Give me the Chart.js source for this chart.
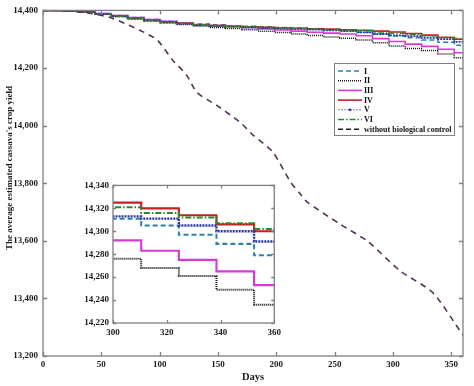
<!DOCTYPE html>
<html>
<head>
<meta charset="utf-8">
<script src="https://cdn.jsdelivr.net/npm/chart.js@4.4.1/dist/chart.umd.min.js"></script>
<style>
  html, body { margin: 0; padding: 0; background: #ffffff; }
  #wrap { position: relative; width: 474px; height: 386px; }
  #main { position: absolute; left: 0; top: 0; }
  #inset { position: absolute; left: 55px; top: 176px; }
</style>
</head>
<body>
<div id="wrap">
  <canvas id="main" width="474" height="386"></canvas>
  <canvas id="inset" width="230" height="170"></canvas>
</div>
<script>
// ---------------- data ----------------
const seriesLabels = ['I', 'II', 'III', 'IV', 'V', 'VI', 'without biological control'];
const yAxisTitle = "The average estimated cassava's crop yield";
const xAxisTitle = 'Days';

const stepDays = [0, 16.5, 30.5, 44.5, 58.5, 72.5, 86.5, 100.5, 114.5, 128.5, 142.5, 156.5, 170.5,
  184.5, 198.5, 212.5, 226.5, 240.5, 254.5, 268.5, 282.5, 296.5, 310.5, 324.5, 338.5, 352.5, 360];

const yieldI   = [14400,14399,14395,14389,14382,14375,14368,14362,14357,14353,14350,14347,14345,14343,14341,14339,14336,14333,14329,14324,14318,14311,14305,14297,14289,14279,14278];
const yieldII  = [14400,14398,14394,14387,14379,14371,14364,14357,14351,14346,14341,14337,14333,14328,14323,14318,14313,14308,14303,14297,14288,14276,14268,14261,14249,14236,14235];
const yieldIII = [14400,14399,14395,14389,14382,14375,14368,14362,14356,14351,14347,14344,14340,14336,14332,14328,14324,14321,14318,14312,14302,14292,14283,14275,14265,14253,14252];
const yieldIV  = [14400,14398,14394,14388,14380,14373,14366,14360,14355,14350,14347,14345,14343,14341,14339,14338,14336,14335,14333,14331,14328,14325,14320,14314,14306,14300,14299];
const yieldV   = [14400,14398,14394,14387,14379,14371,14364,14358,14353,14348,14345,14343,14341,14339,14337,14335,14333,14331,14328,14324,14318,14313,14311,14305,14300,14291,14290];
const yieldVI  = [14400,14398,14394,14388,14380,14373,14366,14360,14355,14350,14347,14345,14343,14341,14339,14337,14335,14334,14332,14329,14325,14321,14316,14312,14307,14302,14301];

const noControlDays  = [0, 20, 40, 57, 70, 83, 98, 111, 123, 132, 149, 169, 180, 197, 212, 220, 226, 255, 278, 306, 334, 360];
const noControlYield = [14400,14399,14390,14376,14355,14331,14297,14228,14176,14115,14070,14011,13967,13908,13805,13765,13736,13657,13599,13496,13420,13272];

const mainXTicks  = [0, 50, 100, 150, 200, 250, 300, 350];
const mainYTicks  = [13200, 13400, 13600, 13800, 14000, 14200, 14400];
const insetXTicks = [300, 320, 340, 360];
const insetYTicks = [14220, 14240, 14260, 14280, 14300, 14320, 14340];

// ---------------- styles ----------------
const FONT = "'Liberation Serif', 'Times New Roman', serif";
const styles = [
  { color: '#2f7fa8', dash: [5, 3],         width: 1.5, order: 7 },
  { color: '#111111', dash: [1, 1],         width: 1.5, order: 6 },
  { color: '#d83ad8', dash: [],             width: 1.6, order: 5 },
  { color: '#c61f26', dash: [],             width: 1.6, order: 4 },
  { color: '#2a35a3', dash: [2, 1],         width: 1.8, order: 3 },
  { color: '#2a8a2a', dash: [6, 2, 1.5, 2], width: 1.5, order: 2 },
  { color: '#553355', dash: [6, 5],         width: 1.6, order: 1 }
];

const pts = (xs, ys) => xs.map((x, i) => ({ x: x, y: ys[i] }));
const stepSeries = [yieldI, yieldII, yieldIII, yieldIV, yieldV, yieldVI];

function buildDatasets(includeNoControl, widthScale) {
  const ds = stepSeries.map((ys, i) => ({
    label: seriesLabels[i],
    data: pts(stepDays, ys),
    borderColor: styles[i].color,
    borderDash: styles[i].dash,
    borderWidth: styles[i].width * widthScale,
    stepped: 'before',
    pointRadius: 0,
    fill: false,
    order: styles[i].order
  }));
  if (includeNoControl) {
    ds.push({
      label: seriesLabels[6],
      data: pts(noControlDays, noControlYield),
      borderColor: styles[6].color,
      borderDash: styles[6].dash,
      borderWidth: styles[6].width,
      pointRadius: 0,
      tension: 0.25,
      fill: false,
      order: styles[6].order
    });
  }
  return ds;
}

// frame + inward ticks
const framePlugin = {
  id: 'frameTicks',
  afterDatasetsDraw(chart, args, opts) {
    const { ctx, chartArea: a, scales } = chart;
    const x = scales.x, y = scales.y;
    const L = opts.len || 4;
    ctx.save();
    ctx.strokeStyle = opts.color || '#7f7f7f';
    ctx.lineWidth = opts.width || 1.3;
    ctx.setLineDash([]);
    ctx.beginPath();
    x.ticks.forEach(t => {
      const px = Math.round(x.getPixelForValue(t.value)) + 0.5;
      ctx.moveTo(px, a.bottom); ctx.lineTo(px, a.bottom - L);
      ctx.moveTo(px, a.top); ctx.lineTo(px, a.top + L);
    });
    y.ticks.forEach(t => {
      const py = Math.round(y.getPixelForValue(t.value)) + 0.5;
      ctx.moveTo(a.left, py); ctx.lineTo(a.left + L, py);
      ctx.moveTo(a.right, py); ctx.lineTo(a.right - L, py);
    });
    ctx.stroke();
    ctx.strokeRect(a.left, a.top, a.right - a.left, a.bottom - a.top);
    ctx.restore();
  }
};

// custom legend box inside the plot area + y-axis title
const legendPlugin = {
  id: 'boxLegend',
  afterDraw(chart) {
    const ctx = chart.ctx;
    const bx = 334, by = 63, bw = 120, bh = 72;
    ctx.save();
    ctx.fillStyle = '#ffffff';
    ctx.fillRect(bx, by, bw, bh);
    ctx.strokeStyle = '#808080';
    ctx.lineWidth = 1;
    ctx.strokeRect(bx + 0.5, by + 0.5, bw, bh);
    ctx.font = 'bold 8px ' + FONT;
    ctx.textBaseline = 'middle';
    ctx.textAlign = 'left';
    const rowH = 9.7;
    seriesLabels.forEach((lab, i) => {
      const cy = by + 8 + i * rowH;
      const st = styles[i];
      ctx.beginPath();
      ctx.setLineDash(i === 6 ? [5, 3] : st.dash);
      ctx.strokeStyle = i === 4 ? '#7a7ab8' : (i === 6 ? '#222222' : st.color);
      ctx.lineWidth = i === 4 ? 1 : 1.6;
      ctx.moveTo(338, cy); ctx.lineTo(362, cy);
      ctx.stroke();
      if (i === 4) {
        ctx.setLineDash([]);
        ctx.fillStyle = '#2a35a3';
        ctx.beginPath(); ctx.arc(350, cy, 1.4, 0, Math.PI * 2); ctx.fill();
      }
      ctx.fillStyle = '#111111';
      ctx.fillText(lab, 364, cy + 0.5);
    });
    // y-axis title
    ctx.translate(10, 168);
    ctx.rotate(-Math.PI / 2);
    ctx.font = 'bold 9px ' + FONT;
    ctx.textAlign = 'center';
    ctx.fillStyle = '#1a1a1a';
    ctx.fillText(yAxisTitle, 0, 0);
    ctx.restore();
  }
};

const tickFont = { family: FONT, size: 9, weight: 'bold' };
const fmt = v => Number(v).toLocaleString('en-US');

new Chart(document.getElementById('main'), {
  type: 'line',
  data: { datasets: buildDatasets(true, 1) },
  options: {
    responsive: false,
    animation: false,
    devicePixelRatio: 1,
    layout: { padding: { top: 7, right: 11, left: 0, bottom: 0 } },
    plugins: {
      legend: { display: false },
      tooltip: { enabled: false },
      frameTicks: { len: 4, color: '#7f7f7f', width: 1.3 }
    },
    scales: {
      x: {
        type: 'linear', min: 0, max: 360,
        afterBuildTicks: s => { s.ticks = mainXTicks.map(v => ({ value: v })); },
        afterFit: s => { s.height = 30; },
        grid: { display: false, drawTicks: false },
        border: { display: false },
        ticks: { font: tickFont, color: '#1a1a1a', padding: 3, maxRotation: 0, autoSkip: false },
        title: { display: true, text: xAxisTitle, font: { family: FONT, size: 10.5, weight: 'bold' }, color: '#1a1a1a', padding: { top: 0, bottom: 2 } }
      },
      y: {
        type: 'linear', min: 13200, max: 14400,
        afterBuildTicks: s => { s.ticks = mainYTicks.map(v => ({ value: v })); },
        afterFit: s => { s.width = 43; },
        grid: { display: false, drawTicks: false },
        border: { display: false },
        ticks: { font: tickFont, color: '#1a1a1a', padding: 5, callback: fmt, autoSkip: false },
        title: { display: false }
      }
    }
  },
  plugins: [framePlugin, legendPlugin]
});

new Chart(document.getElementById('inset'), {
  type: 'line',
  data: { datasets: buildDatasets(false, 1.35) },
  options: {
    responsive: false,
    animation: false,
    devicePixelRatio: 1,
    layout: { padding: { top: 7, right: 10, left: 0, bottom: 0 } },
    plugins: {
      legend: { display: false },
      tooltip: { enabled: false },
      frameTicks: { len: 3, color: '#7f7f7f', width: 1.3 }
    },
    scales: {
      x: {
        type: 'linear', min: 300, max: 360,
        afterBuildTicks: s => { s.ticks = insetXTicks.map(v => ({ value: v })); },
        afterFit: s => { s.height = 23; },
        grid: { display: false, drawTicks: false },
        border: { display: false },
        ticks: { font: tickFont, color: '#1a1a1a', padding: 4, maxRotation: 0, autoSkip: false }
      },
      y: {
        type: 'linear', min: 14220, max: 14340,
        afterBuildTicks: s => { s.ticks = insetYTicks.map(v => ({ value: v })); },
        afterFit: s => { s.width = 58; },
        grid: { display: false, drawTicks: false },
        border: { display: false },
        ticks: { font: tickFont, color: '#1a1a1a', padding: 4, callback: fmt, autoSkip: false }
      }
    }
  },
  plugins: [framePlugin]
});
</script>
</body>
</html>
